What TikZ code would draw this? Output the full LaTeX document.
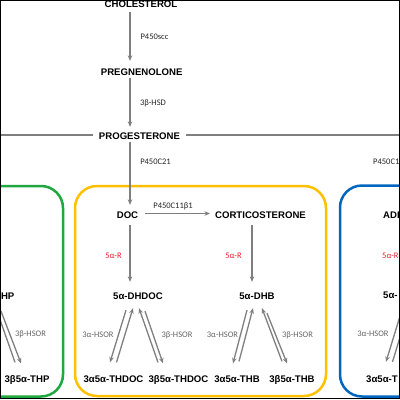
\documentclass[tikz,border=0pt]{standalone}
\usepackage{fontspec}
\setmainfont{Liberation Sans}
\newfontfamily\lblfont{Carlito}
\usetikzlibrary{arrows.meta}
\definecolor{boxgreen}{HTML}{20A840}
\definecolor{boxyellow}{HTML}{FFC000}
\definecolor{boxblue}{HTML}{0066C0}
\definecolor{arrgray}{HTML}{7F7F7F}
\definecolor{redlbl}{HTML}{F0202A}
\begin{document}
\begin{tikzpicture}[x=1pt,y=-1pt,
  mol/.style={font=\fontsize{9.6}{11}\selectfont\bfseries, text height=6.9pt, text depth=0pt, inner sep=2pt},
  enz/.style={font=\lblfont\fontsize{8.5}{10}\selectfont, text=black!85, inner sep=1pt, text height=5.5pt, text depth=0pt},
  hsor/.style={enz, text=black!60},
  rlbl/.style={enz, text=redlbl},
  arr/.style={draw=arrgray, line width=1.3pt, -{Stealth[length=5.5pt,width=4.5pt]}},
  hline/.style={draw=arrgray, line width=1.5pt},
  area/.style={rounded corners=22pt, line width=2.5pt}]
\useasboundingbox (0,0) rectangle (400,400);
\fill[white] (0,0) rectangle (400,400);
\clip (0,0) rectangle (400,400);

% group boxes
\draw[area, draw=boxgreen] (-100,186) rectangle (63,396.5);
\draw[area, draw=boxyellow] (75,186) rectangle (326,396);
\draw[area, draw=boxblue] (340,185.5) rectangle (600,396.5);

% coordinates
\coordinate (stem) at (130,0);
\coordinate (stemb) at (252,0);
\coordinate (hl) at (0,135);
\coordinate (hr) at (400,135);

% main molecules
\node[mol] (chol) at (141,4.5) {CHOLESTEROL};
\node[mol] (preg) at (141.7,72) {PREGNENOLONE};
\draw[hline] (hl) -- (hl -| 93,0);
\draw[hline] (hr) -- (hr -| 183,0);
\node[mol, fill=white, inner xsep=6pt] (prog) at (139.5,136) {PROGESTERONE};
\node[mol] (doc) at (127.5,215) {DOC};
\node[mol] (cort) at (260.5,215) {CORTICOSTERONE};
\node[mol] (dhdoc) at (138,296) {5α-DHDOC};
\node[mol] (dhb) at (257,296) {5α-DHB};
\node[mol] (th3a) at (113.5,379.5) {3α5α-THDOC};
\node[mol] (th3b) at (178.5,379.5) {3β5α-THDOC};
\node[mol] (thb3a) at (237,379.5) {3α5α-THB};
\node[mol] (thb3b) at (292,379.5) {3β5α-THB};
\node[mol] (dhp) at (-3,296) {5α-DHP};
\node[mol] (thp) at (27,379.5) {3β5α-THP};
\node[mol, anchor=west] (adi) at (381,215) {ADI};
\node[mol, anchor=west] (bdh) at (381,295.5) {5α-};
\node[mol, anchor=west] (bth) at (364,379) {3α5α-T};

% enzyme labels
\node[enz] (pscc) at (154.5,37) {P450scc};
\node[enz] (hsd) at (153,103) {3β-HSD};
\node[enz] (c21) at (155.5,162) {P450C21};
\node[enz, anchor=west] (c17) at (372,162) {P450C1};
\node[enz] (c11) at (173,206) {P450C11β1};
\node[rlbl] (r1) at (113.5,255.5) {5α-R};
\node[rlbl] (r2) at (233.5,255.5) {5α-R};
\node[rlbl, anchor=west] (r3) at (381,255.5) {5α-R};
\node[hsor] (h1) at (98,335) {3α-HSOR};
\node[hsor] (h2) at (177,335) {3β-HSOR};
\node[hsor] (h3) at (222.5,335) {3α-HSOR};
\node[hsor] (h4) at (297.5,335) {3β-HSOR};
\node[hsor] (h5) at (30.5,334) {3β-HSOR};
\node[hsor] (h6) at (373,334) {3α-HSOR};

% main chain
\draw[arr, shorten <=2pt, shorten >=5.5pt] (chol.south -| stem) -- (preg.north -| stem);
\draw[arr, shorten <=0.5pt, shorten >=3.5pt] (preg.south -| stem) -- (prog.north -| stem);
\draw[arr, shorten <=0.5pt, shorten >=4.5pt] (prog.south -| stem) -- (doc.north -| stem);
\draw[arr, shorten <=4.5pt, shorten >=3pt] ([yshift=1.5pt]doc.east) -- ([yshift=1.5pt]cort.west);
\draw[arr, shorten <=4.5pt, shorten >=8.5pt] (doc.south -| stem) -- (dhdoc.north -| stem);
\draw[arr, shorten <=4.5pt, shorten >=8.5pt] (cort.south -| stemb) -- (dhb.north -| stemb);

% DHDOC pairs
\draw[arr] ([xshift=-12pt,yshift=-8.5pt]dhdoc.south) -- ([xshift=-3.5pt,yshift=11.5pt]th3a.north);
\draw[arr] ([xshift=3pt,yshift=11.5pt]th3a.north) -- ([xshift=-5pt,yshift=-6.5pt]dhdoc.south);
\draw[arr] ([xshift=-20.5pt,yshift=11.5pt]th3b.north) -- ([xshift=1pt,yshift=-6.5pt]dhdoc.south);
\draw[arr] ([xshift=7pt,yshift=-9.5pt]dhdoc.south) -- ([xshift=-15.5pt,yshift=10.5pt]th3b.north);

% DHB pairs
\draw[arr] ([xshift=-10pt,yshift=-8.5pt]dhb.south) -- ([xshift=-4pt,yshift=10.5pt]thb3a.north);
\draw[arr] ([xshift=2pt,yshift=12.5pt]thb3a.north) -- ([xshift=-4pt,yshift=-6.5pt]dhb.south);
\draw[arr] ([xshift=-10pt,yshift=12.5pt]thb3b.north) -- ([xshift=5pt,yshift=-6.5pt]dhb.south);
\draw[arr] ([xshift=10pt,yshift=-11.5pt]dhb.south) -- ([xshift=-5pt,yshift=10.5pt]thb3b.north);

% DHP pair
\draw[arr] ([xshift=-12pt,yshift=11.5pt]thp.north) -- ([xshift=-1pt,yshift=-6.5pt]dhp.south);
\draw[arr] ([xshift=4pt,yshift=-9.5pt]dhp.south) -- ([xshift=-6pt,yshift=10.5pt]thp.north);

% blue pair
\draw[arr] ([xshift=21pt,yshift=-8.5pt]bdh.south west) -- ([xshift=22pt,yshift=11.5pt]bth.north west);
\draw[arr] ([xshift=28.5pt,yshift=11.5pt]bth.north west) -- ([xshift=28pt,yshift=-6.5pt]bdh.south west);

% frame
\draw[black, line width=1.2pt] (0.6,0.6) rectangle (399.2,398.2);
\end{tikzpicture}
\end{document}
